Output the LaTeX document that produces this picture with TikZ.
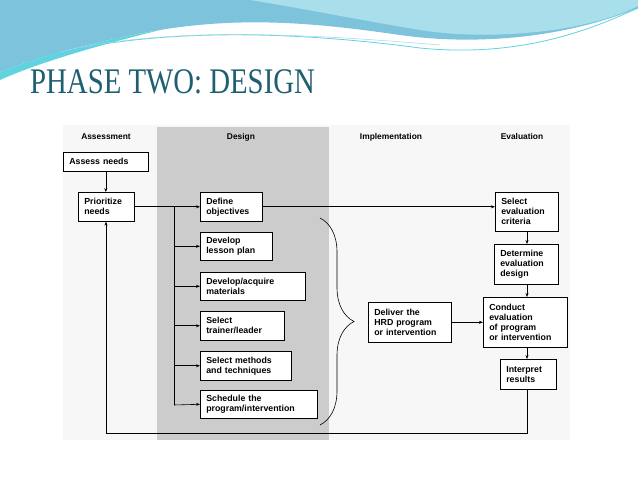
\documentclass[tikz,border=0pt]{standalone}
\usepackage{fontspec}
\setmainfont{Liberation Sans}
\newfontfamily\titlefont{Liberation Serif}
\usetikzlibrary{arrows.meta,decorations.pathreplacing}
\definecolor{titlec}{HTML}{1F5F72}
\definecolor{panel}{HTML}{CCCCCC}
\definecolor{wave1}{HTML}{7EC3DC}
\definecolor{wave2}{HTML}{A9DFEA}
\definecolor{wave3}{HTML}{5FD3E0}
\tikzset{
  bx/.style={draw, line width=0.6pt, fill=white, anchor=north west, align=left, inner ysep=0pt, inner xsep=6pt, font=\fontsize{8.8}{10}\selectfont\bfseries},
  hd/.style={font=\fontsize{8.4}{9}\selectfont\bfseries},
  ln/.style={line width=0.6pt},
  ar/.style={line width=0.6pt, -{Stealth[length=4pt,width=3pt]}}
}
\newcommand{\mybox}[6]{% name, x1,y1,x2,y2,text
  \node[bx, minimum width=#4pt-#2pt, minimum height=#5pt-#3pt, text width=#4pt-#2pt-12pt] (#1) at (#2,#3) {#6};}
\begin{document}
\begin{tikzpicture}[x=1pt,y=-1pt]
\useasboundingbox (0,0) rectangle (638,478);
\fill[white] (0,0) rectangle (638,478);
% waves
\fill[wave1] (0,0) -- (638,0) -- (638,8) .. controls (560,40) and (470,45) .. (400,35) .. controls (330,25) and (250,15) .. (160,30) .. controls (90,42) and (30,60) .. (0,72) -- cycle;
\fill[wave2] (250,0) -- (638,0) -- (638,6) .. controls (580,35) and (480,40) .. (420,30) .. controls (360,20) and (300,8) .. (250,0) -- cycle;
\fill[wave3] (0,72) .. controls (30,60) and (90,42) .. (160,30) .. controls (100,45) and (40,62) .. (0,80) -- cycle;
\draw[wave3, line width=0.8pt] (30,60) .. controls (150,25) and (300,32) .. (420,48) .. controls (520,58) and (590,30) .. (638,8);
\draw[wave1!70, line width=0.5pt] (60,52) .. controls (170,25) and (320,35) .. (440,45);
% title
\node[anchor=base west, text=titlec, font=\titlefont\fontsize{36}{36}\selectfont, xscale=0.8, inner sep=0] (title) at (30,94) {PHASE TWO: DESIGN};
% diagram background
\fill[white!97!black] (63,125) rectangle (570,440);
\fill[panel] (157,127) rectangle (329,440);
\node[hd] (h1) at (106,137) {Assessment};
\node[hd] (h2) at (241,137) {Design};
\node[hd] (h3) at (391,137) {Implementation};
\node[hd] (h4) at (522,137) {Evaluation};
\mybox{an}{63}{152}{148}{171}{Assess needs}
\mybox{pn}{78}{192}{134}{221}{Prioritize\\needs}
\mybox{do}{200}{192}{262}{221}{Define\\objectives}
\mybox{dl}{200}{232}{272}{260}{Develop\\lesson plan}
\mybox{dm}{200}{272}{305}{300}{Develop/acquire\\materials}
\mybox{st}{200}{311}{284}{340}{Select\\trainer/leader}
\mybox{sm}{200}{351}{291}{380}{Select methods\\and techniques}
\mybox{sc}{200}{390}{317}{418}{Schedule the\\program/intervention}
\mybox{se}{495}{192}{558}{231}{Select\\evaluation\\criteria}
\mybox{de}{494}{244}{558}{284}{Determine\\evaluation\\design}
\mybox{ce}{483}{297}{567}{347}{Conduct\\evaluation\\of program\\or intervention}
\mybox{ir}{500}{359}{556}{389}{Interpret\\results}
\mybox{dh}{368}{302}{451}{342}{Deliver the\\HRD program\\or intervention}
% connectors
\draw[ar] (an.south) -- (pn.north -| an.south);
\draw[ar] (pn.east) -- (do.west);
\coordinate (t1) at (174,207);
\coordinate (t2) at (174,405);
\draw[ln] (t1) -- (t2);
\draw[ar] (t1 |- dl.west) -- (dl.west);
\draw[ar] (t1 |- dm.west) -- (dm.west);
\draw[ar] (t1 |- st.west) -- (st.west);
\draw[ar] (t1 |- sm.west) -- (sm.west);
\draw[ar] (t2) -- (sc.west);
\draw[ar] (do.east) -- (do.east -| se.west);
\draw[ar] (se.south -| 527,0) -- (de.north -| 527,0);
\draw[ar] (de.south -| 527,0) -- (ce.north -| 527,0);
\draw[ar] (ce.south -| 527,0) -- (ir.north -| 527,0);
\draw[ar] (dh.east) -- (ce.west |- dh.east);
\coordinate (fb1) at (527,433);
\coordinate (fb2) at (106,433);
\draw[ar] (ir.south -| fb1) -- (fb1) -- (fb2) -- (pn.south -| fb2);
\draw[ln, decorate, decoration={brace, amplitude=34pt, aspect=0.5}] (320,218) -- (320,425);
\end{tikzpicture}
\end{document}
